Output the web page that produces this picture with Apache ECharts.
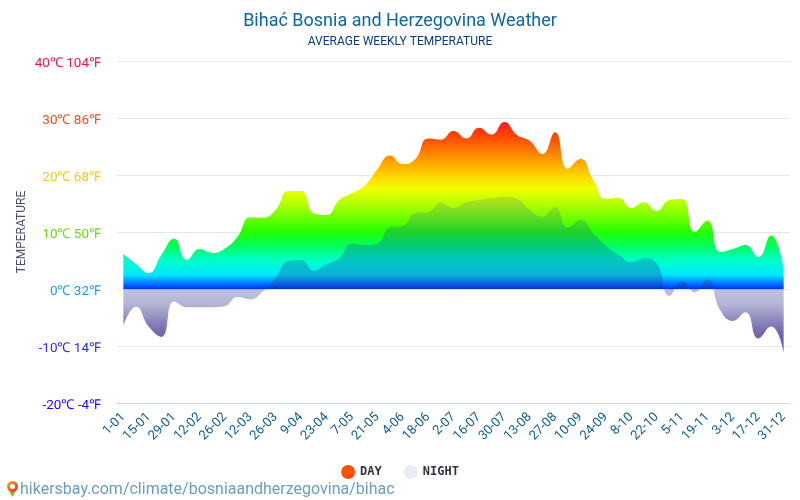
<!DOCTYPE html>
<html><head><meta charset="utf-8">
<style>html,body{margin:0;padding:0;background:#fff}#c{width:800px;height:500px}</style>
<script src="https://cdn.jsdelivr.net/npm/echarts@6/dist/echarts.min.js"></script>
</head><body><div id="c"></div>
<script>
const categories = ['1-01','8-01','15-01','22-01','29-01','5-02','12-02','19-02','26-02','5-03','12-03','19-03','26-03','2-04','9-04','16-04','23-04','30-04','7-05','14-05','21-05','28-05','4-06','11-06','18-06','25-06','2-07','9-07','16-07','23-07','30-07','6-08','13-08','20-08','27-08','3-09','10-09','17-09','24-09','1-10','8-10','15-10','22-10','29-10','5-11','12-11','19-11','26-11','3-12','10-12','17-12','24-12','31-12'];
const dayValues = [6.15,4.4,2.8,6,8.8,5.1,7,6.3,7.1,9.2,12.6,12.5,13.9,17.2,17.2,13.3,13,15.6,16.8,18.1,21,23.4,21.9,22.8,26.4,26.2,27.7,26.4,28.3,27.1,29.3,27,26,23.7,27.5,21.1,22.8,19.2,15.8,16,14.2,15.2,13.7,15.6,15.8,10,12,6.5,7,7.7,5.6,9.4,3.6];
const nightValues = [-6.4,-3.1,-6.6,-8.4,-2.2,-3.2,-3.2,-3.2,-3,-1.4,-1.8,-0.4,2,4.9,5.1,3.2,4.3,5.4,8,7.7,8,10.8,11.1,13.3,13.5,15.1,14.2,15.2,15.6,15.9,16.2,15.8,13.9,12.7,14.4,10.8,12.1,9.8,7.6,6,4.7,5.4,4.5,-1.2,1.4,-0.6,1.7,-3.7,-5.6,-4.1,-8.7,-6.6,-11.1];
const yLabels = {'40':'40℃ 104℉','30':'30℃ 86℉','20':'20℃ 68℉','10':'10℃ 50℉','0':'0℃ 32℉','-10':'-10℃ 14℉','-20':'-20℃ -4℉'};
const yLabelColors = {'40':'#f0173f','30':'#ff4a12','20':'#f6c51e','10':'#6fdc00','0':'#1f9be8','-10':'#2b2bff','-20':'#2a00f5'};
// colours every 2.5 degrees from -20 to 40
const dayColors = ['#0000ff','#0000ff','#0000ff','#0000ff','#0004ff','#0008ff','#000cff','#0020ff','#0030ff','#00e8ff','#00ffc8','#00ff60','#22ff00','#70ff00','#b4ff00','#f0ff00','#ffd200','#ffa000','#ff6a00','#ff3a08','#f0103c','#f0003c','#f0003c','#f0003c','#f0003c'];
const nightColors = ['rgba(50,20,130,.7)','rgba(50,20,130,.7)','rgba(50,20,130,.7)','rgba(50,20,130,.7)','rgba(50,20,130,.7)','rgba(50,20,130,.65)','rgba(40,30,130,.5)','rgba(30,40,130,.33)','rgba(30,50,130,.3)','rgba(30,50,130,.3)','rgba(10,30,170,.25)','rgba(5,20,200,.22)','rgba(0,0,220,.18)','rgba(10,10,225,.15)','rgba(20,20,230,.13)','rgba(20,20,230,.11)','rgba(20,20,230,.1)','rgba(20,20,230,.1)','rgba(20,20,230,.1)','rgba(20,20,230,.1)','rgba(20,20,230,.1)','rgba(20,20,230,.1)','rgba(20,20,230,.1)','rgba(20,20,230,.1)','rgba(20,20,230,.1)'];

const chart = echarts.init(document.getElementById('c'), null, {renderer:'canvas'});
chart.setOption({
  animation:false,
  textStyle:{fontFamily:'Roboto'},
  title:{left:'center',top:7,text:'Bihać Bosnia and Herzegovina Weather',
    textStyle:{fontFamily:'Roboto',fontSize:18,fontWeight:'normal',color:'#0d66a2'},
    subtext:'AVERAGE WEEKLY TEMPERATURE',itemGap:6,
    subtextStyle:{fontFamily:'Roboto',fontSize:12,color:'#0a3d78'}},
  legend:{left:'center',top:460,itemWidth:14,itemHeight:14,itemGap:22,icon:'circle',
    textStyle:{fontFamily:'DejaVu Sans Mono',fontSize:12,fontWeight:'bold',color:'#333340'},
    data:[{name:'DAY',itemStyle:{color:'#ff4f00'}},{name:'NIGHT',itemStyle:{color:'#e8ecf5'}}]},
  grid:{left:117,right:10,top:61,bottom:97},
  xAxis:{type:'category',data:categories,boundaryGap:true,
    axisLine:{onZero:false,lineStyle:{color:'#ccd6eb'}},
    axisTick:{alignWithLabel:true,interval:1,length:5,lineStyle:{color:'#ccd6eb'}},
    axisLabel:{interval:1,rotate:45,fontSize:13,fontFamily:'Roboto',color:'#0d5c92',margin:12,padding:[5,0,0,0]}},
  yAxis:{type:'value',min:-20,max:40,interval:10,
    name:'TEMPERATURE',nameLocation:'middle',nameGap:89,nameMoveOverlap:false,
    nameTextStyle:{fontFamily:'Roboto',fontSize:12,color:'#4a5170'},
    axisLine:{show:false},axisTick:{show:false},
    splitLine:{lineStyle:{color:'#e6e6e6'}},
    axisLabel:{margin:16,fontSize:13.5,fontFamily:'Roboto',verticalAlign:'top',padding:[-4,0,0,0],
      formatter:v=>yLabels[v],color:v=>yLabelColors[v]}},
  visualMap:[
    {type:'continuous',show:false,seriesIndex:0,dimension:1,min:-20,max:40,inRange:{color:dayColors}},
    {type:'continuous',show:false,seriesIndex:1,dimension:1,min:-20,max:40,inRange:{color:nightColors}}
  ],
  series:[
    {name:'DAY',type:'line',data:dayValues,smooth:true,showSymbol:false,lineStyle:{width:0},areaStyle:{opacity:1}},
    {name:'NIGHT',type:'line',data:nightValues,smooth:true,showSymbol:false,lineStyle:{width:0},areaStyle:{opacity:1}}
  ],
  graphic:[
    {type:'text',left:20,top:482,style:{text:'hikersbay.com/climate/bosniaandherzegovina/bihac',font:'16px Roboto',fill:'#6c9dbe'}},
    {type:'group',left:7,top:481,children:[
      {type:'polygon',shape:{points:[[1.5,9],[9.5,9],[5.5,16]]},style:{fill:'#8fb04a'}},
      {type:'ring',shape:{cx:5.5,cy:5.5,r:5.5,r0:2.5},style:{fill:new echarts.graphic.LinearGradient(0,0,1,1,[{offset:0,color:'#f6b21b'},{offset:.6,color:'#ef5a24'},{offset:1,color:'#d8382a'}])}}
    ]}
  ]
});
</script></body></html>
